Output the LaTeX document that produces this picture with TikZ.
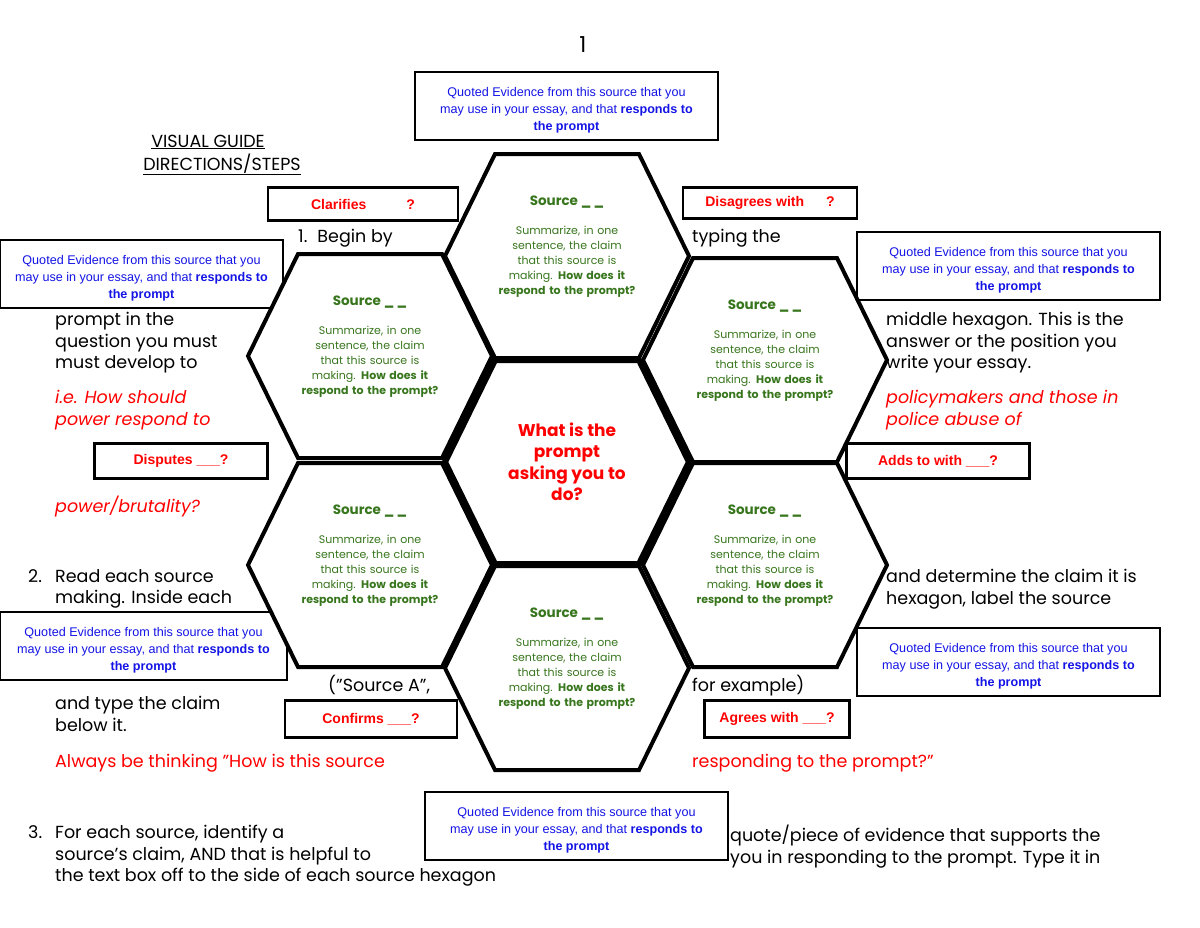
\documentclass[tikz,border=0pt]{standalone}
\usepackage{fontspec}
\setmainfont{Poppins}
\newfontfamily\arialf{Liberation Sans}
\definecolor{srcgreen}{RGB}{56,118,29}
\definecolor{qblue}{RGB}{20,20,230}
\hyphenpenalty=10000
\begin{document}
\begin{tikzpicture}[x=1pt,y=-1pt,
  body/.style={anchor=north west,font=\fontsize{17.5}{21.5}\selectfont,inner sep=0,align=left},
  redi/.style={body,text=red,font=\fontsize{17.5}{21.5}\selectfont\itshape},
  lbl/.style={draw,line width=2.5pt,fill=white,font=\arialf\bfseries\fontsize{14}{16}\selectfont,text=red},
  hexline/.style={line width=4pt,line join=miter},
  srctitle/.style={font=\bfseries\fontsize{13.5}{15}\selectfont,text=srcgreen},
  srcbody/.style={font=\fontsize{11}{15}\selectfont,text=srcgreen,align=center,text width=140pt,inner sep=0}]
\useasboundingbox (0,0) rectangle (1200,927);
% texts
\node[body,anchor=base] (pg) at (583,52) {\fontsize{22}{24}\selectfont 1};
\node[body,anchor=base] (vg1) at (208,147) {\underline{VISUAL GUIDE}};
\node[body,anchor=base] (vg2) at (222,170) {\underline{DIRECTIONS/STEPS}};
\node[body] (t1) at (298,229) {1.\hspace{10pt}Begin by};
\node[body] (t2) at (692,229) {typing the};
\node[body] (t3) at (55,312) {prompt in the\\question you must\\must develop to};
\node[redi] (t4) at (55,390) {i.e. How should\\power respond to};
\node[redi] (t5) at (55,496) {power/brutality?};
\node[body] (t6) at (886,312) {middle hexagon. This is the\\answer or the position you\\write your essay.};
\node[redi] (t7) at (886,390) {policymakers and those in\\police abuse of};
\node[body] (n2) at (28,569) {2.};
\node[body] (t8) at (55,569) {Read each source\\making. Inside each};
\node[body] (t9) at (55,696) {and type the claim\\below it.};
\node[body,text=red] (t10) at (55,754) {Always be thinking "How is this source};
\node[body] (t11) at (328,675) {("Source A",};
\node[body] (t12) at (692,675) {for example)};
\node[body] (t13) at (886,569) {and determine the claim it is\\hexagon, label the source};
\node[body,text=red] (t14) at (692,754) {responding to the prompt?"};
\node[body] (n3) at (28,825) {3.};
\node[body] (t15) at (55,825) {For each source, identify a\\source's claim, AND that is helpful to\\the text box off to the side of each source hexagon};
\node[body] (t16) at (730,825) {quote/piece of evidence that supports the\\you in responding to the prompt. Type it in};
% quote boxes
\foreach \nm/\x/\y/\w in {qa/415/72/303, qb/0/240/283, qc/857/232/303, qd/0/612/287, qe/857/628/303, qf/425/792/303}{
  \begin{scope}
    \clip (\x,\y) rectangle ++(\w,68);
    \fill[white] (\x,\y) rectangle ++(\w,68);
    \node[anchor=north,inner sep=0,align=center,text=qblue,font=\arialf\fontsize{12.6}{17}\selectfont] (\nm) at (\x+\w/2,\y+15)
      {Quoted Evidence from this source that you\\may use in your essay, and that \textbf{responds to}\\\textbf{the prompt}};
  \end{scope}
  \draw[line width=2.5pt] (\x,\y) rectangle ++(\w,68);
}
% label boxes
\node[lbl,minimum width=190pt,minimum height=33pt] (la) at (363,204) {Clarifies\hspace{40pt}?};
\node[lbl,minimum width=174pt,minimum height=31pt] (lb) at (770,203) {Disagrees with\hspace{22pt}?};
\node[lbl,minimum width=173pt,minimum height=35pt] (lc) at (181,461) {Disputes \_\_\_?};
\node[lbl,minimum width=183pt,minimum height=35pt] (ld) at (938,461) {Adds to with \_\_\_?};
\node[lbl,minimum width=172pt,minimum height=37pt] (le) at (371,719) {Confirms \_\_\_?};
\node[lbl,minimum width=145pt,minimum height=37pt] (lf) at (777,719) {Agrees with \_\_\_?};
% hexagons
\foreach \nm/\cx/\cy in {h1/567/256, h2/370/356, h3/765/360, h4/370/565, h5/765/565, h6/567/668}{
  \draw[hexline,fill=white] (\cx-122,\cy) -- (\cx-72,\cy-102) -- (\cx+72,\cy-102) -- (\cx+122,\cy) -- (\cx+72,\cy+102) -- (\cx-72,\cy+102) -- cycle;
  \node[srctitle,anchor=base] (\nm t) at (\cx,\cy-51) {Source \_\,\_};
  \node[srcbody,anchor=north] (\nm b) at (\cx,\cy-30) {Summarize, in one sentence, the claim that this source is making. \textbf{How does it respond to the prompt?}};
}
\draw[line width=6pt,line join=miter,fill=white] (445,462) -- (495,360) -- (639,360) -- (689,462) -- (639,564) -- (495,564) -- cycle;
\node[font=\bfseries\fontsize{17}{21.5}\selectfont,text=red,align=center] (ctr) at (567,462) {What is the\\prompt\\asking you to\\do?};
\end{tikzpicture}
\end{document}
